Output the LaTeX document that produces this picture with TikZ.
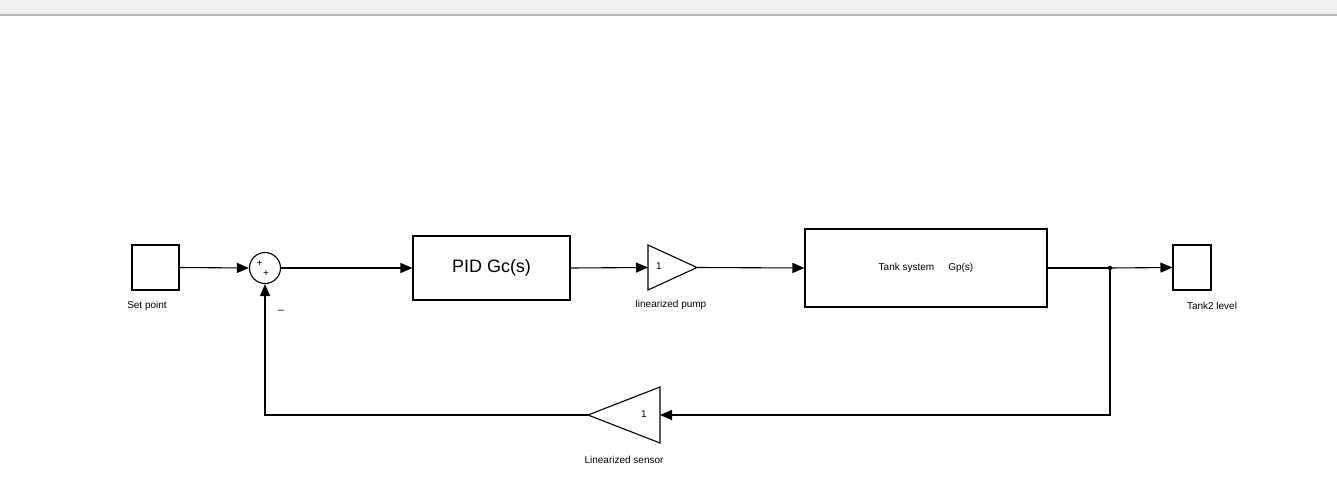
\documentclass[tikz,border=0pt]{standalone}
\usepackage{fontspec}
\setmainfont{Liberation Sans}
\usetikzlibrary{arrows.meta}
\begin{document}
\begin{tikzpicture}[x=1pt,y=-1pt,
  blk/.style={draw,line width=1.1pt,inner sep=0pt},
  lbl/.style={font=\fontsize{10}{12}\selectfont},
  sig/.style={line width=1.1pt,-{Triangle[length=12pt,width=10pt]}},
  wire/.style={line width=1.1pt}]
\useasboundingbox (0,0) rectangle (1337,478);
\fill[black!6] (0,0) rectangle (1337,15);
\fill[black!28] (0,14.5) rectangle (1337,16.5);
% blocks
\node[blk,minimum width=47,minimum height=45] (sp) at (155.5,267.5) {};
\node[lbl] (spl) at (147,306) {Set point};
\node[draw,circle,line width=1.1pt,minimum size=31,inner sep=0pt] (sum) at (265,268) {};
\node[font=\fontsize{10}{10}\selectfont,inner sep=0pt] at (259.5,263.5) {+};
\node[font=\fontsize{10}{10}\selectfont,inner sep=0pt] at (266,274) {+};
\node[font=\fontsize{11}{11}\selectfont] at (281,312) {--};
\node[blk,minimum width=157,minimum height=64,font=\fontsize{18}{20}\selectfont] (pid) at (491.5,268) {PID Gc(s)};
% pump gain
\draw[line width=1.1pt] (648,245) -- (697,267.5) -- (648,290) -- cycle;
\coordinate (pin) at (648,267.5);
\coordinate (pout) at (697,267.5);
\node[lbl] at (659,266) {1};
\node[lbl] at (671,305) {linearized pump};
\node[blk,minimum width=242,minimum height=78,font=\fontsize{10}{12}\selectfont] (tank) at (926,268) {Tank system\hspace{14pt}Gp(s)};
\node[blk,minimum width=38,minimum height=45] (out) at (1192,267.5) {};
\node[lbl] at (1212,306) {Tank2 level};
% sensor gain
\draw[line width=1.1pt] (660,387) -- (588,415) -- (660,443) -- cycle;
\coordinate (sin) at (660,415);
\coordinate (sout) at (588,415);
\node[lbl] at (644,414) {1};
\node[lbl] at (624,460) {Linearized sensor};
% branch
\coordinate (br) at (1110,268);
\fill (br) circle (2.2);
% signals
\draw[sig] (sp.east) -- (sum.west);
\draw[sig] (sum.east) -- (pid.west);
\draw[sig] (pid.east) -- (pin);
\draw[sig] (pout) -- (tank.west);
\draw[wire] (tank.east) -- (br);
\draw[sig] (br) -- (out.west);
\draw[sig] (br) |- (sin);
\draw[sig] (sout) -| (sum.south);
\end{tikzpicture}
\end{document}
